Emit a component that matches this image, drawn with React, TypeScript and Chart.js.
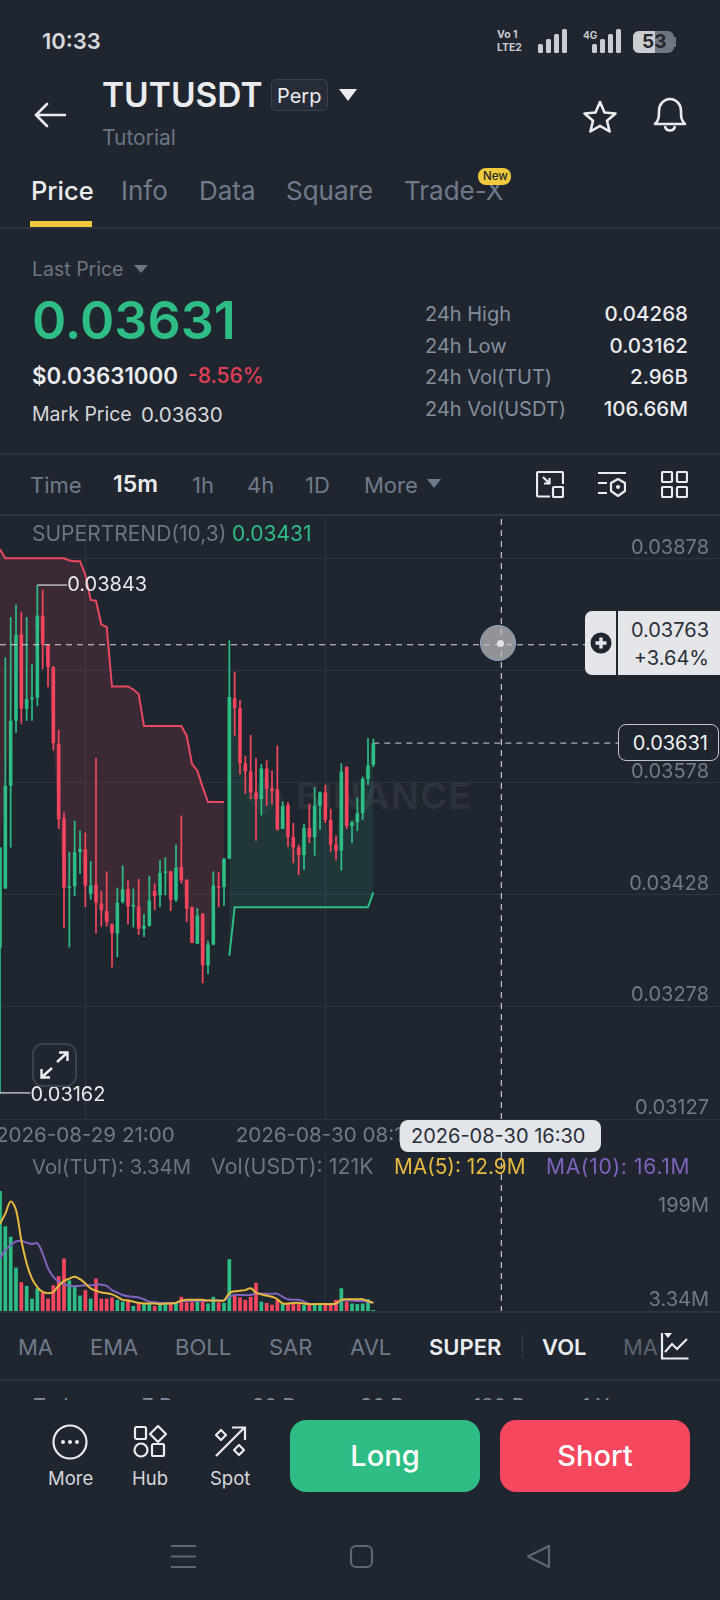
import React, { useEffect, useRef } from "react";
import { Chart, registerables } from "chart.js";

Chart.register(...registerables);

// ---------- data (15m candles, first candle 2026-08-29 17:00) ----------
const opens = [0.03357,0.03436,0.03574,0.03661,0.03777,0.03677,0.0369,0.03692,0.03802,0.03763,0.03733,0.0363,0.0353,0.03437,0.03439,0.03485,0.03489,0.03429,0.03441,0.03416,0.03406,0.03388,0.03376,0.03418,0.03435,0.03412,0.03412,0.03382,0.03386,0.03433,0.03427,0.03457,0.03459,0.03421,0.03465,0.03448,0.03411,0.03362,0.03402,0.03333,0.03361,0.03439,0.03438,0.03476,0.03691,0.03678,0.03604,0.03593,0.03565,0.03556,0.03597,0.0357,0.03569,0.03516,0.03548,0.03505,0.03491,0.03481,0.03517,0.03505,0.03547,0.03565,0.03528,0.03495,0.03487,0.03599,0.0352,0.03525,0.03537,0.03583,0.03602];
const closes = [0.03491,0.03574,0.03661,0.03776,0.03677,0.0369,0.03692,0.03802,0.03763,0.03733,0.03631,0.03529,0.03437,0.03439,0.03485,0.03489,0.0344,0.0344,0.03417,0.03407,0.03391,0.03376,0.03417,0.03435,0.03412,0.03414,0.03382,0.03386,0.0342,0.03426,0.03457,0.03459,0.03421,0.03464,0.03447,0.03409,0.03363,0.034,0.03333,0.03361,0.0344,0.03437,0.03476,0.03693,0.03678,0.03604,0.03593,0.03565,0.03556,0.03597,0.0357,0.03567,0.03515,0.03547,0.03505,0.03491,0.03481,0.03517,0.03505,0.03547,0.03565,0.03528,0.03495,0.03487,0.03593,0.0352,0.03525,0.03537,0.03583,0.03601,0.03631];
const highs = [0.03491,0.03746,0.038,0.03817,0.03807,0.038,0.03737,0.03843,0.03837,0.03763,0.03734,0.03649,0.03538,0.03485,0.03527,0.03514,0.03511,0.03473,0.03611,0.03433,0.03459,0.03389,0.03437,0.03467,0.03447,0.03436,0.03449,0.03402,0.03453,0.03443,0.03474,0.03478,0.0346,0.03495,0.03534,0.03448,0.03412,0.0341,0.03403,0.03366,0.03459,0.03458,0.03477,0.03769,0.03727,0.03689,0.03614,0.03642,0.03611,0.03603,0.03608,0.03594,0.03628,0.03553,0.03552,0.03524,0.03495,0.03523,0.0355,0.03572,0.03566,0.03575,0.03543,0.03507,0.03604,0.036,0.03527,0.03558,0.03586,0.03638,0.03637];
const lows = [0.03162,0.03436,0.03491,0.03645,0.03657,0.03661,0.03661,0.03681,0.0373,0.03706,0.03621,0.03516,0.03383,0.03357,0.03426,0.03456,0.03411,0.03421,0.03376,0.03385,0.03385,0.0333,0.03344,0.03416,0.03388,0.03384,0.03374,0.03371,0.03385,0.03407,0.03411,0.03427,0.03406,0.03418,0.03443,0.03391,0.03363,0.03362,0.03309,0.03321,0.0336,0.03411,0.03413,0.03476,0.03641,0.03589,0.03563,0.03556,0.035,0.03534,0.03547,0.03549,0.03514,0.03516,0.03492,0.0347,0.03454,0.03461,0.03497,0.0348,0.03515,0.03524,0.03485,0.03474,0.0346,0.03516,0.03497,0.03513,0.03528,0.03575,0.03599];
const superDown = [0.03891,0.03879,0.03879,0.03879,0.03879,0.03879,0.03879,0.03879,0.03879,0.03879,0.03879,0.03879,0.03879,0.03876,0.03875,0.03875,0.03857,0.03823,0.03822,0.0379,0.03787,0.03707,0.03707,0.03707,0.03707,0.03703,0.03697,0.03654,0.03654,0.03654,0.03654,0.03654,0.03654,0.03654,0.03654,0.03641,0.03603,0.03594,0.03572,0.03552,0.03552,0.03552,0.03552];
const superUp = [0.03346,0.03411,0.03411,0.03411,0.03411,0.03411,0.03411,0.03411,0.03411,0.03411,0.03411,0.03411,0.03411,0.03411,0.03411,0.03411,0.03411,0.03411,0.03411,0.03411,0.03411,0.03411,0.03411,0.03411,0.03411,0.03411,0.03411,0.03431];
const volumes = [199,141,124,73,49,43,22,39,32,22,44,59,88,52,41,27,36,22,55,22,22,24,20,17,20,10,16,14,15,10,13,13,15,15,25,16,16,17,19,14,25,16,15,87,29,24,20,25,48,17,15,12,20,13,15,14,13,12,13,12,12,13,13,20,39,17,14,13,14,21,3.34];
const ma5 = [145,162,182,168,118,80,55,41,33,31,33,43,51,55,58,54,47,39,35,32,31,29,25,20,19,17,15,14,14,14,13,14,14,15,19,20,20,20,20,19,19,19,19,31,34,35,36,39,32,29,27,25,21,14,14,15,15,14,13,13,13,13,13,14,20,21,21,21,21,18,15];
const ma10 = [88,102,110,116,117,114,112,113,96,72,58,50,46,43,43,43,44,44,45,45,43,36,32,28,26,25,24,21,17,16,15,15,15,15,18,18,18,18,18,19,19,19,19,25,28,28,28,28,31,30,30,30,30,25,21,20,20,17,13,13,13,13,13,13,19,19,19,18,18,17,15];
const priceTicks = [0.03878,0.03728,0.03578,0.03428,0.03278,0.03127];
const timeTickIndex = [16,61];
const timeTickLabels = ["2026-08-29 21:00","2026-08-30 08:15"];
const volumeLabels = ["199M","3.34M"];
const volumeLabelValues = [199,3.34];
const crossIndex = [94];
const crossPrice = [0.03763];
const lastPrice = [0.03631];
const highMark = [0.03843];
const lowMark = [0.03162];

const BG = "#1f2630";
const GRID = "#2d343f";
const GREEN = "#2ebd85";
const RED = "#f6465d";
const AXIS_TEXT = "#727a87";
const FONT = "Inter, sans-serif";
const XMAX = 135;
const YMIN = 0.03127;
const YMAX = 0.039356;
const VMAX = 265;

const pts = (arr: number[], from = 0) => arr.map((y, i) => ({ x: i + from, y }));
const seg = (x0: number, y0: number, x1: number, y1: number) => [{ x: x0, y: y0 }, { x: x1, y: y1 }];
const colorOf = (i: number) => (closes[i] >= opens[i] ? GREEN : RED);
const dashLine = (data: any[], color: string) => ({
  type: "line", data, borderColor: color, borderWidth: 1.1, borderDash: [6, 5], pointRadius: 0, order: 0, tension: 0,
});

const notesPlugin = {
  id: "notes",
  afterDatasetsDraw(chart: any, _a: any, opts: any) {
    const ctx = chart.ctx;
    ctx.save();
    ctx.textBaseline = "middle";
    (opts.items || []).forEach((n: any) => {
      ctx.font = "400 " + (n.size || 20) + "px " + FONT;
      ctx.fillStyle = n.color;
      ctx.textAlign = n.align;
      const px = n.px !== undefined ? n.px : chart.scales.x.getPixelForValue(n.x);
      ctx.fillText(n.text, px, chart.scales.y.getPixelForValue(n.y) + (n.dy || 0));
    });
    ctx.restore();
  },
};

function PriceChart() {
  const ref = useRef<HTMLCanvasElement>(null);
  useEffect(() => {
    const chart = new Chart(ref.current as any, {
      type: "bar",
      plugins: [notesPlugin],
      data: {
        datasets: [
          { type: "line", data: pts(closes), borderColor: "transparent", borderWidth: 0, pointRadius: 0, fill: false, order: 20, tension: 0 },
          { type: "line", data: pts(superDown), borderColor: "#e8495f", borderWidth: 2, pointRadius: 0, fill: { target: 0 }, backgroundColor: "rgba(246,70,93,0.13)", order: 10, tension: 0 },
          { type: "line", data: pts(superUp, 43), borderColor: GREEN, borderWidth: 2, pointRadius: 0, fill: { target: 0 }, backgroundColor: "rgba(46,189,133,0.11)", order: 9, tension: 0 },
          { type: "bar", grouped: false, inflateAmount: 0, maxBarThickness: 1.7, borderWidth: 0, order: 3,
            data: highs.map((h, i) => ({ x: i, y: [lows[i], h] })), backgroundColor: highs.map((_, i) => colorOf(i)) },
          { type: "bar", grouped: false, inflateAmount: 0, maxBarThickness: 3.6, minBarLength: 1.6, borderWidth: 0, order: 2,
            data: opens.map((o, i) => ({ x: i, y: [o, closes[i]] })), backgroundColor: opens.map((_, i) => colorOf(i)) },
          dashLine(seg(0, crossPrice[0], 110, crossPrice[0]), "#d5d9df"),
          dashLine(seg(crossIndex[0], YMIN, crossIndex[0], YMAX), "#d5d9df"),
          dashLine(seg(70, lastPrice[0], 116, lastPrice[0]), "#aab0b8"),
          { type: "line", data: seg(7, highMark[0], 12.6, highMark[0]), borderColor: "#cfd3d8", borderWidth: 1.3, pointRadius: 0, order: 1 },
          { type: "line", data: seg(0, lowMark[0], 5.7, lowMark[0]), borderColor: "#cfd3d8", borderWidth: 1.3, pointRadius: 0, order: 1 },
        ] as any,
      },
      options: {
        animation: false,
        responsive: false,
        events: [],
        layout: { padding: 0, autoPadding: false },
        plugins: {
          legend: { display: false },
          tooltip: { enabled: false },
          notes: { items: [
            { x: 12.6, y: highMark[0], text: highMark[0].toFixed(5), color: "#e6e8ec", align: "left" },
            { x: 5.7, y: lowMark[0], dy: 2, text: lowMark[0].toFixed(5), color: "#e6e8ec", align: "left" },
            ...timeTickIndex.map((x, i) => ({ x, y: YMIN, dy: 17, size: 20.6, text: timeTickLabels[i], color: AXIS_TEXT, align: "center" })),
          ] },
        } as any,
        scales: {
          x: {
            type: "linear", min: 0, max: XMAX, position: "bottom", offset: false,
            afterBuildTicks: (s: any) => { s.ticks = timeTickIndex.map((value) => ({ value })); },
            afterFit: (s: any) => { s.height = 32; },
            grid: { color: GRID, drawTicks: false, lineWidth: 1, offset: false },
            border: { display: false },
            ticks: { display: false },
          },
          y: {
            type: "linear", min: YMIN, max: YMAX, position: "right",
            afterBuildTicks: (s: any) => { s.ticks = priceTicks.map((value) => ({ value })); },
            afterFit: (s: any) => { s.width = 0; },
            grid: { color: GRID, drawTicks: false, lineWidth: 1 },
            border: { display: false },
            ticks: {
              mirror: true, padding: -11, labelOffset: -11, color: AXIS_TEXT, font: { family: FONT, size: 20 },
              callback: (v: any) => Number(v).toFixed(5),
            },
          },
        },
      } as any,
    });
    return () => chart.destroy();
  }, []);
  return <canvas ref={ref} width={720} height={636} style={{ position: "absolute", left: 0, top: 515, display: "block" }} />;
}

function VolumeChart() {
  const ref = useRef<HTMLCanvasElement>(null);
  useEffect(() => {
    const chart = new Chart(ref.current as any, {
      type: "bar",
      plugins: [notesPlugin],
      data: {
        datasets: [
          { type: "bar", grouped: false, inflateAmount: 0, maxBarThickness: 3.7, borderWidth: 0, order: 5,
            data: pts(volumes), backgroundColor: volumes.map((_, i) => colorOf(i)) },
          { type: "line", data: pts(ma10), borderColor: "#7f63bd", borderWidth: 2, pointRadius: 0, tension: 0.35, order: 2 },
          { type: "line", data: pts(ma5), borderColor: "#e8b93f", borderWidth: 2, pointRadius: 0, tension: 0.35, order: 1 },
          dashLine(seg(crossIndex[0], 0, crossIndex[0], VMAX), "#d5d9df"),
        ] as any,
      },
      options: {
        animation: false,
        responsive: false,
        events: [],
        layout: { padding: 0, autoPadding: false },
        plugins: {
          legend: { display: false },
          tooltip: { enabled: false },
          notes: { items: [
            { px: 709, y: volumeLabelValues[0], dy: 15, text: volumeLabels[0], color: AXIS_TEXT, align: "right" },
            { px: 709, y: volumeLabelValues[1], dy: -10, text: volumeLabels[1], color: AXIS_TEXT, align: "right" },
          ] },
        } as any,
        scales: {
          x: {
            type: "linear", min: 0, max: XMAX, position: "bottom", offset: false,
            afterBuildTicks: (s: any) => { s.ticks = timeTickIndex.map((value) => ({ value })); },
            afterFit: (s: any) => { s.height = 0; },
            grid: { color: GRID, drawTicks: false, offset: false },
            border: { display: false },
            ticks: { display: false },
          },
          y: { type: "linear", min: 0, max: VMAX, display: false },
        },
      } as any,
    });
    return () => chart.destroy();
  }, []);
  return <canvas ref={ref} width={720} height={161} style={{ position: "absolute", left: 0, top: 1151, display: "block" }} />;
}

type TP = { x: number; y: number; s?: number; c?: string; w?: number; r?: boolean; children: any; ls?: number };
const T = ({ x, y, s = 20, c = "#848e9c", w = 400, r = false, children, ls = 0 }: TP) => (
  <div style={{
    position: "absolute", top: y, transform: "translateY(-50%)", ...(r ? { right: 720 - x } : { left: x }),
    fontSize: s, color: c, fontWeight: w, whiteSpace: "nowrap", lineHeight: 1.2, letterSpacing: ls,
  }}>{children}</div>
);
const Box = ({ x, y, w, h, style }: any) => <div style={{ position: "absolute", left: x, top: y, width: w, height: h, ...style }} />;
const Rule = ({ y }: { y: number }) => <Box x={0} y={y} w={720} h={1.5} style={{ background: "#2d343f" }} />;
const Svg = ({ x, y, w, h, children, vb }: any) => (
  <svg style={{ position: "absolute", left: x, top: y }} width={w} height={h} viewBox={vb || `0 0 ${w} ${h}`} fill="none">{children}</svg>
);
const Tri = ({ x, y, w, h, c }: any) => (
  <Svg x={x} y={y} w={w} h={h}><path d={`M0 0H${w}L${w / 2} ${h}Z`} fill={c} /></Svg>
);
const Bars = ({ x, y }: any) => (
  <Svg x={x} y={y} w={32} h={26}>
    <rect x="1" y="16" width="5" height="9" rx="1.5" fill="#c9ccd1" />
    <rect x="9" y="11" width="5" height="14" rx="1.5" fill="#c9ccd1" />
    <rect x="17" y="6" width="5" height="19" rx="1.5" fill="#c9ccd1" />
    <rect x="25" y="1" width="5" height="24" rx="1.5" fill="#c9ccd1" />
  </Svg>
);

export default function App() {
  useEffect(() => {
    document.body.style.margin = "0";
    document.body.style.background = BG;
  }, []);
  const W = "#eaecef";
  const ic = "#eaecef";
  return (
    <div style={{ position: "relative", width: 720, height: 1600, background: BG, overflow: "hidden", fontFamily: FONT }}>
      {/* status bar */}
      <T x={42} y={41} s={22} c="#d5d8dc" w={600}>10:33</T>
      <T x={497} y={35} s={10.5} c="#c9ccd1" w={700}>Vo 1</T>
      <T x={497} y={48} s={10.5} c="#c9ccd1" w={700}>LTE2</T>
      <Bars x={537} y={28} />
      <T x={583} y={35} s={10} c="#c9ccd1" w={700}>4G</T>
      <Bars x={591} y={28} />
      <Box x={633} y={31} w={41} h={22} style={{ background: "#6f7680", borderRadius: 6 }} />
      <Box x={633} y={31} w={22} h={22} style={{ background: "#c9ccd1", borderRadius: "6px 0 0 6px" }} />
      <Box x={674} y={37} w={2} h={10} style={{ background: "#6f7680" }} />
      <T x={642} y={42} s={19} c="#23272e" w={700}>53</T>

      {/* header */}
      <Svg x={34} y={102} w={32} h={26}>
        <path d="M31 13H2M13 2L2 13L13 24" stroke={ic} strokeWidth="2.6" strokeLinecap="round" strokeLinejoin="round" />
      </Svg>
      <T x={102} y={95} s={33.5} c={W} w={600}>TUTUSDT</T>
      <Box x={271} y={79} w={55} h={30} style={{ background: "#262d39", border: "1.5px solid #3a424f", borderRadius: 5 }} />
      <T x={277} y={96} s={20} c={W}>Perp</T>
      <Tri x={339} y={89} w={18} h={12} c={W} />
      <T x={102} y={138} s={21} c="#6d7583">Tutorial</T>
      <Svg x={583} y={100} w={34} h={33}>
        <path d="M17 2L21.5 12.5L32.5 13.5L24 20.8L26.6 31.5L17 25.8L7.4 31.5L10 20.8L1.5 13.5L12.5 12.5Z" stroke={ic} strokeWidth="2.6" strokeLinejoin="round" />
      </Svg>
      <Svg x={652} y={97} w={36} h={37}>
        <path d="M3 27H33C29 23 29 20 29 14C29 7 24 2 18 2C12 2 7 7 7 14C7 20 7 23 3 27Z" stroke={ic} strokeWidth="2.6" strokeLinejoin="round" />
        <path d="M13 29C14 35 22 35 23 29" stroke={ic} strokeWidth="2.6" />
      </Svg>

      {/* tabs */}
      <T x={31} y={191} s={25.5} c={W} w={500}>Price</T>
      <T x={121} y={191} s={26} c="#707a8a">Info</T>
      <T x={199} y={191} s={26} c="#707a8a">Data</T>
      <T x={286} y={191} s={26} c="#707a8a">Square</T>
      <T x={404} y={191} s={26} c="#707a8a">Trade-X</T>
      <Box x={478} y={168} w={33} h={17} style={{ background: "#f0c93c", borderRadius: 8 }} />
      <T x={483} y={177} s={11.5} c="#23272e" w={500}>New</T>
      <Box x={30} y={221} w={62} h={6} style={{ background: "#f0c93c" }} />
      <Rule y={227} />

      {/* price block */}
      <T x={32} y={269.5} s={19.5} c="#6d7583">Last Price</T>
      <Tri x={134} y={265} w={14} h={8} c="#6d7583" />
      <T x={32} y={321} s={52} c={GREEN} w={600}>0.03631</T>
      <T x={32} y={376} s={22.3} c={W} w={600}>$0.03631000</T>
      <T x={188} y={376} s={21} c="#e23f55" w={500}>-8.56%</T>
      <T x={32} y={414.5} s={19.5} c="#d5d8dc">Mark Price</T>
      <T x={141} y={414.5} s={20.5} c="#d5d8dc">0.03630</T>
      {[["24h High", "0.04268", 314], ["24h Low", "0.03162", 346], ["24h Vol(TUT)", "2.96B", 377], ["24h Vol(USDT)", "106.66M", 409]].map((r: any) => (
        <React.Fragment key={r[0]}>
          <T x={425} y={r[2]} s={20} c="#848e9c">{r[0]}</T>
          <T x={688} y={r[2]} s={20.5} c={W} w={500} r>{r[1]}</T>
        </React.Fragment>
      ))}
      <Rule y={453} />

      {/* intervals */}
      <T x={30} y={485} s={22} c="#707a8a">Time</T>
      <T x={113} y={485} s={23} c={W} w={600}>15m</T>
      <T x={192} y={485} s={22} c="#707a8a">1h</T>
      <T x={247} y={485} s={22} c="#707a8a">4h</T>
      <T x={305} y={485} s={22} c="#707a8a">1D</T>
      <T x={364} y={485} s={22} c="#707a8a">More</T>
      <Tri x={427} y={479} w={14} h={9} c="#707a8a" />
      <Svg x={536} y={471} w={28} h={27}>
        <path d="M14 25.5H2.5A1.5 1.5 0 0 1 1 24V2.5A1.5 1.5 0 0 1 2.5 1H25.5A1.5 1.5 0 0 1 27 2.5V13" stroke={ic} strokeWidth="2.2" />
        <path d="M7 6L13.5 12.5M13.5 7V12.5H8" stroke={ic} strokeWidth="2.2" />
        <rect x="17" y="16" width="10" height="10" rx="1" stroke={ic} strokeWidth="2.2" />
      </Svg>
      <Svg x={598} y={471} w={28} h={27}>
        <path d="M0 2H28M0 12H9M0 22H9" stroke={ic} strokeWidth="2.2" />
        <path d="M20 8L27 12V20L20 25L13 20V12Z" stroke={ic} strokeWidth="2.2" strokeLinejoin="round" />
        <circle cx="20" cy="16" r="2" fill={ic} />
      </Svg>
      <Svg x={661} y={471} w={27} h={27}>
        <rect x="1" y="1" width="10" height="10" rx="1" stroke={ic} strokeWidth="2.2" />
        <rect x="16" y="1" width="10" height="10" rx="1" stroke={ic} strokeWidth="2.2" />
        <rect x="1" y="16" width="10" height="10" rx="1" stroke={ic} strokeWidth="2.2" />
        <rect x="16" y="16" width="10" height="10" rx="1" stroke={ic} strokeWidth="2.2" />
      </Svg>
      <Rule y={514} />

      {/* watermark under the chart */}
      <T x={296} y={796} s={37} c="rgba(255,255,255,0.06)" w={700} ls={1}>BINANCE</T>
      <Svg x={244} y={776} w={42} h={42}>
        <path d="M21 2L40 21L21 40L2 21Z" fill="rgba(255,255,255,0.04)" />
      </Svg>

      <PriceChart />
      <VolumeChart />

      {/* legends */}
      <T x={32} y={534} s={21} c="#6d7583">SUPERTREND(10,3)</T>
      <T x={232} y={534} s={21} c={GREEN}>0.03431</T>
      <T x={32} y={1167} s={20.3} c="#6d7583">Vol(TUT): 3.34M</T>
      <T x={211} y={1167} s={21.4} c="#6d7583">Vol(USDT): 121K</T>
      <T x={394} y={1167} s={20.8} c="#e8b93f">MA(5): 12.9M</T>
      <T x={546} y={1167} s={21} c="#7f63bd" ls={0.7}>MA(10): 16.1M</T>

      {/* crosshair and price tags */}
      <Box x={480} y={625} w={36} h={36} style={{ background: "rgba(190,190,190,0.72)", border: "1.5px solid #8ea6cc", borderRadius: "50%", boxSizing: "border-box" }} />
      <Box x={497} y={639.5} w={7} h={7} style={{ background: "#dfe2e6", borderRadius: "50%" }} />
      <Box x={585} y={611} w={135} h={64} style={{ background: "#e4e6ea", borderRadius: "7px 0 0 7px" }} />
      <Box x={616} y={611} w={2.4} h={64} style={{ background: BG }} />
      <Svg x={590} y={632} w={22} h={22}>
        <circle cx="11" cy="11" r="10.5" fill="#1f2630" />
        <path d="M11 5.5V16.5M5.5 11H16.5" stroke="#e4e6ea" strokeWidth="3.4" />
      </Svg>
      <T x={709} y={630} s={20} c="#2a2f38" r>0.03763</T>
      <T x={709} y={658} s={20} c="#2a2f38" r>+3.64%</T>
      <Box x={618} y={724} w={101} h={37} style={{ background: BG, border: "1.5px solid #c3c7cd", borderRadius: 8, boxSizing: "border-box" }} />
      <T x={708} y={743} s={20} c="#f0f1f3" r>0.03631</T>
      <Box x={400} y={1120} w={201} h={32} style={{ background: "#e2e5ea", borderRadius: 8 }} />
      <T x={411} y={1136} s={20} c="#2a2f38">2026-08-30 16:30</T>
      <Box x={32} y={1043} w={45} h={44} style={{ border: "2px solid #3a424f", borderRadius: 11, boxSizing: "border-box" }} />
      <Svg x={40} y={1051} w={29} h={28}>
        <path d="M17 11L27 2M19 1.5H27.5V10M12 17L2 26M10 26.5H1.5V18" stroke={ic} strokeWidth="2.4" />
      </Svg>

      {/* indicator tabs */}
      <Rule y={1311} />
      <T x={18} y={1347} s={22} c="#707a8a">MA</T>
      <T x={90} y={1347} s={22} c="#707a8a">EMA</T>
      <T x={175} y={1347} s={22} c="#707a8a">BOLL</T>
      <T x={269} y={1347} s={22} c="#707a8a">SAR</T>
      <T x={350} y={1347} s={22} c="#707a8a">AVL</T>
      <T x={429} y={1347} s={22} c={W} w={600}>SUPER</T>
      <Box x={521.5} y={1334} w={1.5} h={24} style={{ background: "#353c47" }} />
      <T x={542} y={1347} s={22} c={W} w={600}>VOL</T>
      <div style={{ position: "absolute", left: 623, top: 1330, width: 36, height: 34, overflow: "hidden" }}>
        <T x={0} y={17} s={22} c="#5b6370">MACD</T>
      </div>
      <Svg x={660} y={1332} w={29} h={28}>
        <path d="M2 1V26.5H28.5M5 20L12 12L17 17L27 7" stroke={ic} strokeWidth="2.2" />
        <path d="M4 1H12L8 6Z" fill={ic} />
      </Svg>
      <Rule y={1379} />

      {/* cut-off range row */}
      <div style={{ position: "absolute", left: 0, top: 1390, width: 720, height: 10, overflow: "hidden" }}>
        {[["Today", 33], ["7 D", 142], ["30 D", 252], ["90 D", 360], ["180 D", 473], ["1 Y", 582]].map((r: any) => (
          <T key={r[0]} x={r[1]} y={16} s={20} c="#848e9c">{r[0]}</T>
        ))}
      </div>

      {/* bottom bar */}
      <Svg x={52} y={1424} w={36} h={36}>
        <circle cx="18" cy="18" r="16.5" stroke={ic} strokeWidth="2.2" />
        <circle cx="11" cy="18" r="2" fill={ic} /><circle cx="18" cy="18" r="2" fill={ic} /><circle cx="25" cy="18" r="2" fill={ic} />
      </Svg>
      <T x={48} y={1478} s={18.5} c="#d5d8dc">More</T>
      <Svg x={133} y={1425} w={34} h={33}>
        <rect x="2" y="2" width="11" height="12" rx="1.5" stroke={ic} strokeWidth="2.2" />
        <path d="M25 1L33 9L25 17L17 9Z" stroke={ic} strokeWidth="2.2" strokeLinejoin="round" />
        <circle cx="8" cy="25" r="6.5" stroke={ic} strokeWidth="2.2" />
        <rect x="19" y="19" width="12" height="12" rx="1.5" stroke={ic} strokeWidth="2.2" />
      </Svg>
      <T x={132} y={1478} s={18.5} c="#d5d8dc">Hub</T>
      <Svg x={214} y={1425} w={33} h={33}>
        <path d="M2 31L30 3M18 2.5H31V15" stroke={ic} strokeWidth="2.2" />
        <path d="M7 5L12 10L7 15L2 10Z M25 20L30 25L25 30L20 25Z" stroke={ic} strokeWidth="2.2" strokeLinejoin="round" />
      </Svg>
      <T x={210} y={1478} s={18.5} c="#d5d8dc">Spot</T>
      <Box x={290} y={1420} w={190} h={72} style={{ background: GREEN, borderRadius: 16 }} />
      <Box x={500} y={1420} w={190} h={72} style={{ background: "#f5475d", borderRadius: 16 }} />
      <div style={{ position: "absolute", left: 290, top: 1420, width: 190, lineHeight: "72px", textAlign: "center", fontSize: 29, fontWeight: 500, color: "#fff" }}>Long</div>
      <div style={{ position: "absolute", left: 500, top: 1420, width: 190, lineHeight: "72px", textAlign: "center", fontSize: 29, fontWeight: 500, color: "#fff" }}>Short</div>

      {/* navigation */}
      <Svg x={171} y={1544} w={25} h={25}>
        <path d="M0 2H25M0 12.5H25M0 23H25" stroke="#5f6672" strokeWidth="2.2" />
      </Svg>
      <Svg x={349} y={1544} w={25} h={25}>
        <rect x="2" y="2" width="21" height="21" rx="5" stroke="#5f6672" strokeWidth="2.2" />
      </Svg>
      <Svg x={526} y={1544} w={25} h={25}>
        <path d="M23 2V23L2 12.5Z" stroke="#5f6672" strokeWidth="2.2" strokeLinejoin="round" />
      </Svg>
    </div>
  );
}
